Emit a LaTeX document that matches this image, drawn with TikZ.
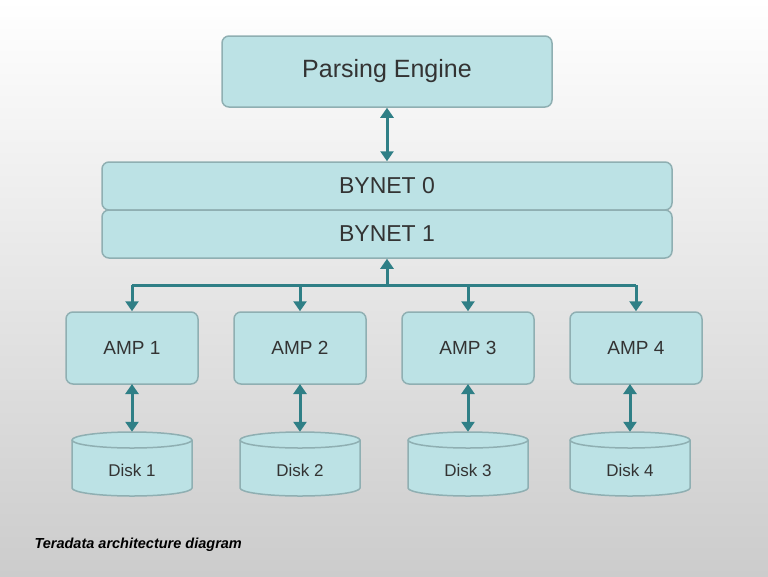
\documentclass[tikz,border=0pt]{standalone}
\usepackage{fontspec}
\setmainfont{Liberation Sans}
\usetikzlibrary{arrows.meta}
\definecolor{boxfill}{HTML}{BCE2E5}
\definecolor{boxline}{HTML}{8FAFB2}
\definecolor{arr}{HTML}{2F7F86}
\begin{document}
\begin{tikzpicture}[x=1pt,y=-1pt,
  box/.style={draw=boxline,line width=1.5pt,fill=boxfill,rounded corners=7pt,inner sep=0pt,text=black!80},
  tip/.tip={Triangle[length=10pt,width=13pt]},
  con/.style={arr,line width=3pt,-tip},
  dcon/.style={arr,line width=3pt,tip-tip}]
\shade[top color=white,bottom color=black!20] (0,0) rectangle (768,576);
\useasboundingbox (0,0) rectangle (768,576);
\node[box,minimum width=330pt,minimum height=71pt,font=\fontsize{25}{28}\selectfont] (pe) at (387,71.5) {Parsing Engine};
\node[box,minimum width=570pt,minimum height=48pt,font=\fontsize{23}{26}\selectfont] (b0) at (387,186) {BYNET 0};
\node[box,minimum width=570pt,minimum height=48pt,font=\fontsize{23}{26}\selectfont] (b1) at (387,234) {BYNET 1};
\draw[dcon] (pe.south) -- (b0.north);
\coordinate (hub) at (387,285);
\draw[con] (hub) -- (b1.south);
\foreach \i/\x/\dx in {1/132/132,2/300/300,3/468/468,4/636/630}{
  \node[box,minimum width=132pt,minimum height=72pt,font=\fontsize{19}{22}\selectfont] (amp\i) at (\x,348) {AMP \i};
  \begin{scope}[shift={(\dx,0)}]
    \draw[boxline,line width=1.5pt,fill=boxfill] (-60,440) -- (-60,488) arc[start angle=180,end angle=0,x radius=60,y radius=8] -- (60,440) arc[start angle=0,end angle=-180,x radius=60,y radius=8] -- cycle;
    \draw[boxline,line width=1.5pt] (-60,440) arc[start angle=180,end angle=0,x radius=60,y radius=8];
  \end{scope}
  \node[inner sep=0pt,minimum width=120pt,minimum height=76pt,font=\fontsize{17}{20}\selectfont,text=black!80] (disk\i) at (\dx,470) {Disk \i};
  \coordinate (at\i) at (\dx,384);
  \draw[dcon] (at\i) -- (disk\i.north);
}
\draw[arr,line width=3pt] (amp1.north |- hub) -- (amp4.north |- hub);
\foreach \i in {1,2,3,4}{\draw[con] (amp\i.north |- hub) -- (amp\i.north);}
\node[anchor=west,font=\bfseries\itshape\fontsize{14.5}{16}\selectfont] (cap) at (31,545) {Teradata architecture diagram};
\end{tikzpicture}
\end{document}
